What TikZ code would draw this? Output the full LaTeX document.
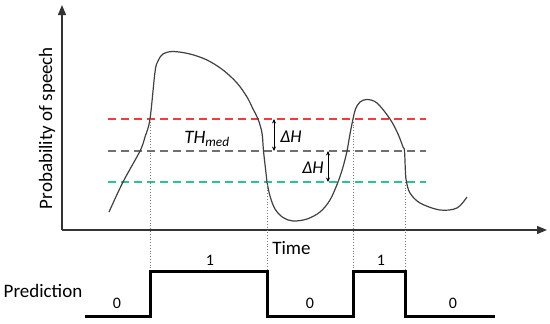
\documentclass[tikz,border=0pt]{standalone}
\usepackage{fontspec}
\setmainfont{Carlito}
\usetikzlibrary{arrows.meta}
\definecolor{axis}{HTML}{333333}
\definecolor{curve}{HTML}{404040}
\definecolor{high}{HTML}{F03C3C}
\definecolor{medium}{HTML}{707070}
\definecolor{low}{HTML}{2CC488}
\definecolor{guide}{HTML}{7A7A7A}
\definecolor{ink}{HTML}{000000}
\begin{document}
\begin{tikzpicture}[x=1pt,y=-1pt,
  thr/.style={line width=1.1pt,dash pattern=on 8pt off 5pt},
  drop/.style={guide,line width=.8pt,dotted},
  lbl/.style={inner sep=0pt,text=ink,font=\fontsize{19}{22}\selectfont},
  bit/.style={inner sep=0pt,text=ink,font=\fontsize{16}{19}\selectfont},
  dh/.style={ink,line width=.9pt,{Stealth[length=4.5pt,width=4pt]}-{Stealth[length=4.5pt,width=4pt]}}]
\useasboundingbox (0,0) rectangle (550,324);
\coordinate (o) at (62,230);\coordinate (ytop) at (62,5);\coordinate (xend) at (547,230);
\draw[axis,line width=1.3pt,-{Triangle[length=10pt,width=8pt]}] (o)--(ytop);
\draw[axis,line width=1.3pt,-{Triangle[length=10pt,width=8pt]}] (o)--(xend);
\node[lbl,rotate=90] (ylab) at (47,128){Probability of speech};
\node[lbl] (xlab) at (291.5,248){Time};
\coordinate (h0) at (108,119);\coordinate (h1) at (426,119);
\coordinate (m0) at (108,151);\coordinate (m1) at (426,151);
\coordinate (l0) at (108,182);\coordinate (l1) at (426,182);
\draw[thr,high] (h0)--(h1);\draw[thr,medium] (m0)--(m1);\draw[thr,low] (l0)--(l1);
\draw[curve,line width=1.2pt] plot[smooth,tension=.55] coordinates {(109,212) (123,182) (140,151) (145,137) (150,119) (155,72) (158,61) (163,54) (173,51.5) (190,54) (207,60) (223,70) (237,83) (247,97) (253,109) (258,119) (262,133) (263.5,151) (266,173) (267,182) (270,196) (275,209) (283,217.5) (293,221) (307,219) (320,212) (330,200) (338,182) (343,167) (347,151) (350,134) (353,119) (355.5,109) (360,102) (367,99.5) (377,103) (390,119) (398,134) (403,147) (404.5,151) (405.5,173) (406.5,182) (410,193) (420,203) (440,210) (457,208) (467,197)};
\coordinate (u1) at (150,119);\coordinate (d1) at (267,182);\coordinate (u2) at (353,119);\coordinate (d2) at (405,182);
\coordinate (s0) at (85,316);\coordinate (s1) at (150,271);\coordinate (s2) at (267,316);\coordinate (s3) at (353,271);\coordinate (s4) at (405,316);\coordinate (s5) at (495,316);
\draw[drop] (u1)--(u1|-s1);\draw[drop] (d1)--(d1|-s1);\draw[drop] (u2)--(u2|-s1);\draw[drop] (d2)--(d2|-s1);
\draw[black,line width=3pt] (s0)-|(s1)-|(s2)-|(s3)-|(s4)--(s5);
\node[lbl] (pred) at (43,291){Prediction};
\node[bit] (b0) at (117,303){0};\node[bit] (b1) at (210,260){1};\node[bit] (b2) at (310,303){0};\node[bit] (b3) at (381,260){1};\node[bit] (b4) at (453,303){0};
\node[lbl,font=\fontsize{19}{22}\selectfont\itshape] (th) at (207,139){TH\textsubscript{med}};
\coordinate (a1) at (274,119);\coordinate (a2) at (274,151);\coordinate (a3) at (328,151);\coordinate (a4) at (328,182);
\draw[dh] (a1)--(a2);\draw[dh] (a3)--(a4);
\node[lbl,font=\fontsize{18}{22}\selectfont\itshape] (dh1) at (291,137){ΔH};
\node[lbl,font=\fontsize{18}{22}\selectfont\itshape] (dh2) at (313,168){ΔH};
\end{tikzpicture}
\end{document}
